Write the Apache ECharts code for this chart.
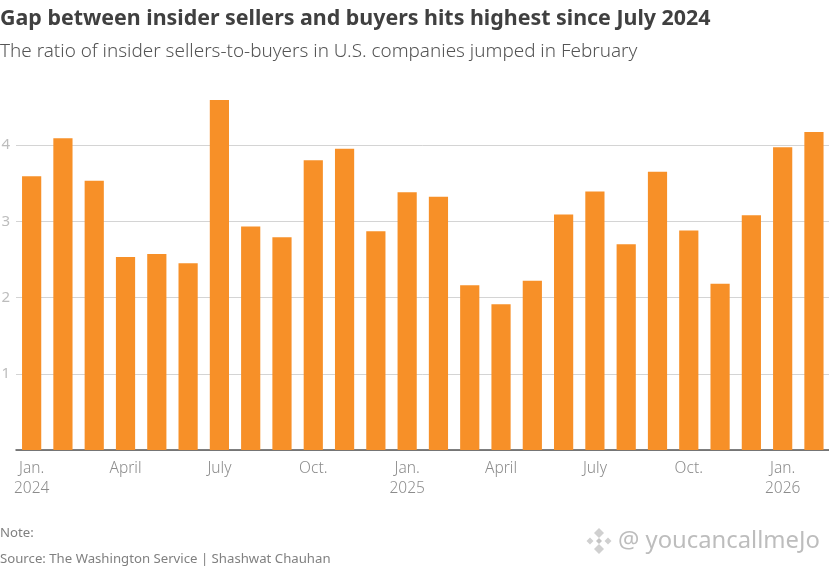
<!DOCTYPE html>
<html><head><meta charset="utf-8">
<style>html,body{margin:0;padding:0;background:#fff}#c{width:829px;height:566px}</style>
<script src="https://cdn.jsdelivr.net/npm/echarts@6/dist/echarts.min.js"></script>
</head><body><div id="c"></div>
<script>
const categories = ["Jan.\n2024","Feb.","March","April","May","June","July","Aug.","Sept.","Oct.","Nov.","Dec.",
  "Jan.\n2025","Feb.","March","April","May","June","July","Aug.","Sept.","Oct.","Nov.","Dec.","Jan.\n2026","Feb."];
const ratio = [3.59,4.09,3.53,2.53,2.57,2.45,4.59,2.93,2.79,3.80,3.95,2.87,3.38,3.32,2.16,1.91,2.22,3.09,3.39,2.70,3.65,2.88,2.18,3.08,3.97,4.17];
const yTicks = [0,1,2,3,4,5];
const titleText = "Gap between insider sellers and buyers hits highest since July 2024";
const subtitleText = "The ratio of insider sellers-to-buyers in U.S. companies jumped in February";
const noteText = "Note:";
const sourceText = "Source: The Washington Service | Shashwat Chauhan";
const watermarkText = "@ youcancallmeJo";
const font = "Noto Sans";
const diamond = (x,y,s,fill)=>({type:'polygon',silent:true,shape:{points:[[x,y-s],[x+s,y],[x,y+s],[x-s,y]]},style:{fill:fill}});
const chart = echarts.init(document.getElementById('c'),null,{renderer:'canvas'});
chart.setOption({
  animation:false,
  textStyle:{fontFamily:font},
  title:[
    {text:titleText,left:0,top:8,padding:0,textStyle:{fontFamily:font,fontSize:21.4,fontWeight:700,color:'#404040'}},
    {text:subtitleText,left:0,top:42,padding:0,textStyle:{fontFamily:font,fontSize:18.9,fontWeight:300,color:'#555'}}
  ],
  grid:{left:16,right:-0.6,top:68.75,bottom:116,containLabel:false,outerBoundsMode:'none'},
  xAxis:{type:'category',data:categories,
    axisTick:{show:false},
    axisLine:{lineStyle:{color:'#555',width:1.5}},
    axisLabel:{interval:2,color:'#8c8c8c',fontSize:15.5,lineHeight:20,margin:9,fontFamily:font,fontWeight:300}},
  yAxis:{type:'value',min:yTicks[0],max:yTicks[yTicks.length-1],interval:1,
    axisLine:{show:false},axisTick:{show:false},
    splitLine:{showMaxLine:false,lineStyle:{color:'#d4d4d4',width:1}},
    axisLabel:{color:'#bdbdbd',fontSize:15,margin:6,fontFamily:font,
      formatter:v=>(v===0||v===5)?'':String(v)}},
  series:[{type:'bar',data:ratio,barWidth:19.2,itemStyle:{color:'#f79028'},silent:true}],
  graphic:[
    {type:'text',left:0,top:527,style:{text:noteText,fontFamily:font,fontSize:13.2,fill:'#808080'}},
    {type:'text',left:0,top:553,style:{text:sourceText,fontFamily:font,fontSize:13.2,fill:'#808080'}},
    {type:'text',left:618,top:529,style:{text:watermarkText,fontFamily:font,fontSize:23.8,fill:'#bdbdbd',shadowColor:'rgba(0,0,0,0.2)',shadowBlur:2,shadowOffsetY:1}},
    diamond(599,533,5,'#d0d0d0'),diamond(590,541,3.5,'#d0d0d0'),diamond(608,541,3.5,'#d0d0d0'),
    diamond(599,541,3,'#c4c4c4'),diamond(599,549,5,'#d0d0d0')
  ]
});
</script></body></html>
